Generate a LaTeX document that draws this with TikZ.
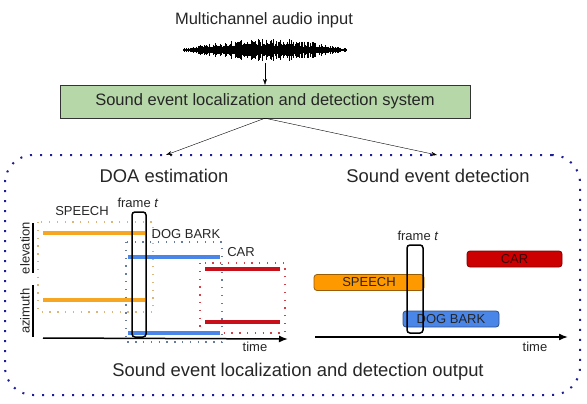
\documentclass[tikz,border=0pt]{standalone}
\usepackage{fontspec}
\setmainfont{Liberation Sans}
\usetikzlibrary{positioning,arrows.meta}
\definecolor{seldGreen}{HTML}{B6D7A8}
\definecolor{frameBlue}{HTML}{1E1E96}
\definecolor{speechOrange}{HTML}{F6A623}
\definecolor{speechFill}{HTML}{FF9900}
\definecolor{barkBlue}{HTML}{4A86E8}
\definecolor{carRed}{HTML}{C8101A}
\definecolor{carFill}{HTML}{CC0000}

\begin{document}
\begin{tikzpicture}[x=1pt,y=-1pt,
title/.style={font=\fontsize{18.4}{22}\selectfont, inner sep=0pt, text=black!85},
caption/.style={font=\fontsize{16.5}{20}\selectfont, inner sep=0pt, text=black!85},
small/.style={font=\fontsize{13}{15}\selectfont, inner sep=0pt, text=black!85},
system/.style={draw=black!80, fill=seldGreen, minimum width=410pt, minimum height=33pt, inner sep=0pt},
outerbox/.style={draw=frameBlue, line width=2pt, dash pattern=on 2pt off 8pt, rounded corners=28pt, minimum width=575pt, minimum height=240pt},
track/.style={line width=4pt},
group/.style={line width=1.3pt, dash pattern=on 1.3pt off 6.5pt},
framet/.style={draw=black, line width=1.5pt, rounded corners=3pt},
axis/.style={line width=1.5pt, -{Latex[length=9pt,width=7pt]}},
event/.style={rounded corners=3pt, line width=0.8pt, minimum height=16pt, inner sep=0pt, font=\fontsize{13}{15}\selectfont},
link/.style={-{Stealth[length=6pt,width=4pt]}},
]

\useasboundingbox (0,0) rectangle (587,404);

% input and system
\node[caption] (input) at (264,20) {Multichannel audio input};
\pgfmathsetseed{11}
\foreach \i in {0,...,163}{
  \pgfmathsetmacro{\amp}{(1.5+10.5*sin(1.1*\i))*(0.35+0.65*rnd)}
  \draw[line width=1pt] (183+\i,50-\amp) -- (183+\i,50+\amp);
}
\coordinate (wave) at (265,63);
\node[system] (system) at (265,101.5) {};
\node[caption] (systemText) at (system.center) {Sound event localization and detection system};
\draw[link] (wave) -- (system.north);

% output frame
\node[outerbox] (output) at (292.5,275) {};
\coordinate (doaIn) at (166,155);
\coordinate (sedIn) at (437,155);
\draw[link] (system.south) -- (doaIn);
\draw[link] (system.south) -- (sedIn);
\node[title] (doaTitle) at (164,176) {DOA estimation};
\node[title] (sedTitle) at (438,176) {Sound event detection};
\node[title] (outTitle) at (298,372) {Sound event localization and detection output};

% DOA estimation
\node[small, rotate=90] (elev) at (25,248) {elevation};
\node[small, rotate=90] (azim) at (25,311) {azimuth};
\draw[line width=1.3pt] (33,223) -- (33,273);
\draw[line width=1.3pt] (33,285) -- (33,337);

\draw[group, draw=speechOrange!80!black!60] (38,222) rectangle (153,312);
\draw[group, draw=barkBlue!50!black!70] (126,242) rectangle (222,342);
\draw[group, draw=carRed!80] (200,263) rectangle (285,333);

\draw[track, speechOrange] (43,233) -- (145,233);
\draw[track, speechOrange] (43,300) -- (145,300);
\draw[track, barkBlue] (128,257) -- (220,257);
\draw[track, barkBlue] (128,333) -- (220,333);
\draw[track, carRed] (205,269) -- (280,269);
\draw[track, carRed] (205,322) -- (280,322);

\coordinate (doaO) at (43,338);
\coordinate (doaEnd) at (288,339);
\draw[axis] (doaO) -- (doaEnd);
\node[small] (doaTime) at (255,347) {time};

\node[small] (doaSpeech) at (82,211) {SPEECH};
\node[small] (doaBark) at (186,234) {DOG BARK};
\node[small] (doaCar) at (241,252) {CAR};
\draw[framet] (132,212) rectangle (146,337);
\node[small] (doaFrame) at (138,203) {frame \textit{t}};

% sound event detection
\node[event, draw=carFill!60!black, fill=carFill, text=black!70!carFill, minimum width=95pt] (sedCar) at (514.5,259) {CAR};
\node[event, draw=speechFill!60!black, fill=speechFill, text=black!85, minimum width=110pt] (sedSpeech) at (369,282.5) {SPEECH};
\node[event, draw=barkBlue!60!black, fill=barkBlue, text=black!85, minimum width=96pt] (sedBark) at (451,319) {DOG BARK};
\draw[framet] (407,245) rectangle (423,333);
\node[small] (sedFrame) at (418,236) {frame \textit{t}};

\coordinate (sedO) at (315,337);
\coordinate (sedEnd) at (568,337);
\draw[axis] (sedO) -- (sedEnd);
\node[small] (sedTime) at (535,347) {time};

\end{tikzpicture}
\end{document}
